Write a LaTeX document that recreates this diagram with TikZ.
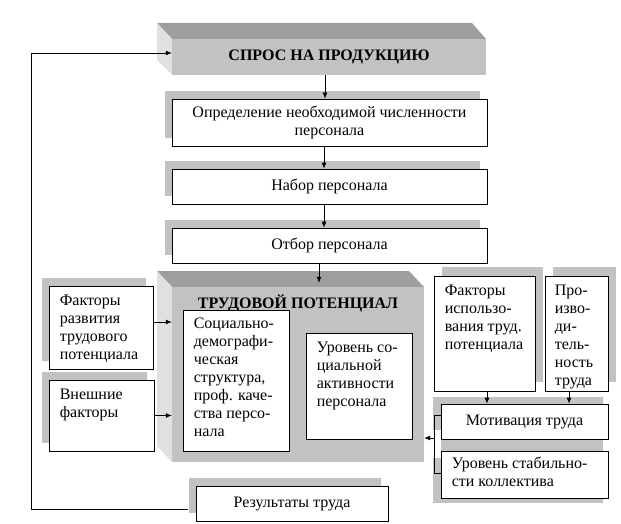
\documentclass[tikz,border=0pt]{standalone}
\usepackage{fontspec}
\setmainfont{Liberation Serif}
\usetikzlibrary{arrows.meta,shadows}
\definecolor{frontc}{gray}{0.76}
\definecolor{topc}{gray}{0.62}
\definecolor{sidec}{gray}{0.88}
\definecolor{shc}{gray}{0.76}
\newcommand{\myfs}{\fontsize{16}{18}\selectfont}
\begin{document}
\begin{tikzpicture}[x=1pt,y=-1pt,
  box/.style={draw, line width=0.75pt, fill=white, inner sep=0pt, align=center, font=\myfs},
  shl/.style={drop shadow={shadow xshift=-7pt, shadow yshift=8pt, fill=shc, opacity=1}},
  shr/.style={drop shadow={shadow xshift=8pt, shadow yshift=9pt, fill=shc, opacity=1}},
  txt/.style={anchor=north west, inner sep=0pt, align=left, font=\myfs},
  arr/.style={line width=0.75pt, -{Latex[length=6pt,width=5pt]}},
  ln/.style={line width=0.75pt}]
\useasboundingbox (0,0) rectangle (621,524);
% top 3D box
\fill[topc] (157,23) -- (472,23) -- (486,39) -- (172,39) -- cycle;
\fill[sidec] (157,23) -- (172,39) -- (172,75) -- (157,60) -- cycle;
\node[fill=frontc, minimum width=314pt, minimum height=36pt, inner sep=0pt, font=\myfs\bfseries] (spros) at (329,57) {СПРОС НА ПРОДУКЦИЮ};
% chain
\node[box,shl,minimum width=315pt,minimum height=47pt] (opr) at (329.5,122.5) {Определение необходимой численности\\персонала};
\node[box,shl,minimum width=315pt,minimum height=35pt] (nab) at (329.5,186.5) {Набор персонала};
\node[box,shl,minimum width=315pt,minimum height=35pt] (otb) at (329.5,245.5) {Отбор персонала};
% central 3D box
\fill[topc] (157,271) -- (409,271) -- (424,287) -- (172,287) -- cycle;
\fill[sidec] (157,271) -- (172,287) -- (172,462) -- (157,446) -- cycle;
\node[fill=frontc, minimum width=252pt, minimum height=175pt, inner sep=0pt] (tp) at (298,374.5) {};
\node[font=\myfs\bfseries, inner sep=0pt] (tpt) at (298,303) {ТРУДОВОЙ ПОТЕНЦИАЛ};
\node[box, minimum width=106pt, minimum height=141pt] (sd) at (236,380.5) {};
\node[txt] (sdt) at ([shift={(11,6)}]sd.north west) {\strut Социально-\\демографи-\\ческая\\структура,\\проф. каче-\\ства персо-\\нала};
\node[box, minimum width=106pt, minimum height=106pt] (ua) at (359,386) {};
\node[txt] (uat) at ([shift={(11,7)}]ua.north west) {\strut Уровень со-\\циальной\\активности\\персонала};
% left boxes
\node[box,shl, minimum width=104pt, minimum height=83pt] (fr) at (101,327.5) {};
\node[txt] (frt) at ([shift={(11,7)}]fr.north west) {\strut Факторы\\развития\\трудового\\потенциала};
\node[box,shl, minimum width=105pt, minimum height=71pt] (vn) at (101.5,415.5) {};
\node[txt] (vnt) at ([shift={(11,7)}]vn.north west) {\strut Внешние\\факторы};
% right boxes
\node[box,shr, minimum width=101pt, minimum height=115pt] (fi) at (484.5,333.5) {};
\node[txt] (fit) at ([shift={(11,7)}]fi.north west) {\strut Факторы\\использо-\\вания труд.\\потенциала};
\node[box,shr, minimum width=63pt, minimum height=115pt] (pr) at (576.5,333.5) {};
\node[txt] (prt) at ([shift={(10,7)}]pr.north west) {\strut Про-\\изво-\\ди-\\тель-\\ность\\труда};
\fill[shc] (433,397) rectangle (603,503);
\fill[white] (433,430) rectangle (441,458);
\node[box, minimum width=167pt, minimum height=35pt] (mot) at (524.5,421.5) {Мотивация труда};
\node[box, minimum width=167pt, minimum height=47pt] (ust) at (524.5,474.5) {};
\node[txt] (ustt) at ([shift={(11,5)}]ust.north west) {\strut Уровень стабильно-\\сти коллектива};
% results
\node[box,shl, minimum width=192pt, minimum height=35pt] (res) at (292,503.5) {Результаты труда};
% connectors
\coordinate (c1) at ([xshift=-4pt]spros.south);
\draw[arr] (c1) -- (c1 |- opr.north);
\coordinate (c2) at ([xshift=-5.5pt]opr.south);
\draw[arr] (c2) -- (c2 |- nab.north);
\coordinate (c3) at ([xshift=-5.5pt]nab.south);
\draw[arr] (c3) -- (c3 |- otb.north);
\coordinate (c4) at ([xshift=-10.5pt]otb.south);
\coordinate (c4e) at (c4 |- tp.north);
\draw[arr] (c4) -- ([yshift=4pt]c4e);
\coordinate (a1) at ([yshift=5.5pt]fr.east);
\draw[arr] (a1) -- (a1 -| tp.west);
\draw[arr] (vn.east) -- (vn.east -| tp.west);
\coordinate (d1) at ([xshift=2.5pt]fi.south);
\draw[arr] (d1) -- (d1 |- mot.north);
\coordinate (d2) at ([xshift=-7.5pt]pr.south);
\draw[arr] (d2) -- (d2 |- mot.north);
\coordinate (bt) at ([yshift=6.5pt]mot.west);
\coordinate (bb) at ([yshift=1.5pt]ust.west);
\draw[ln] (bt) -- ++(-6,0) |- (bb);
\coordinate (bm) at (435,438);
\draw[arr] (bm) -- (bm -| tp.east);
\coordinate (l0) at ([xshift=-8pt,yshift=-5.5pt]res.west);
\coordinate (l1) at ([yshift=4pt]spros.west);
\draw[arr] (l0) -- ++(-156,0) |- (l1);
\end{tikzpicture}
\end{document}
